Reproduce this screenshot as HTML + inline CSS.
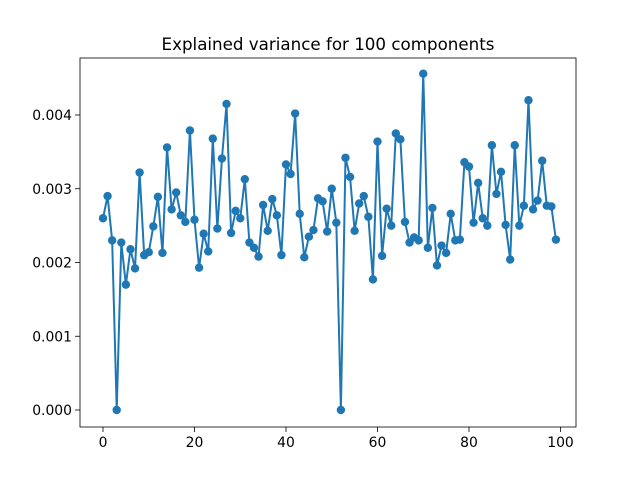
<!DOCTYPE html>
<html><head><meta charset="utf-8"><style>
body{margin:0;background:#fff;}
svg{font-family:"DejaVu Sans","Liberation Sans",sans-serif;}
</style></head><body>
<svg id="chart" width="640" height="480">
<rect x="0" y="0" width="640" height="480" fill="#fff"/>
<text x="328" y="50" font-size="16.7" text-anchor="middle">Explained variance for 100 components</text>
<g id="ticks"></g>
<g id="marks"></g>
<rect x="80" y="58" width="496" height="369" fill="none" stroke="#000" stroke-width="0.8"/>
</svg>
<script>
const values=[0.0026,0.0029,0.0023,0,0.00227,0.0017,0.00218,0.00192,0.00322,0.0021,
0.00214,0.00249,0.00289,0.00213,0.00356,0.00272,0.00295,0.00264,0.00255,0.00379,
0.00258,0.00193,0.00239,0.00215,0.00368,0.00246,0.00341,0.00415,0.0024,0.0027,
0.0026,0.00313,0.00227,0.0022,0.00208,0.00278,0.00243,0.00286,0.00264,0.0021,
0.00333,0.0032,0.00402,0.00266,0.00207,0.00235,0.00244,0.00287,0.00283,0.00242,
0.003,0.00254,0,0.00342,0.00316,0.00243,0.0028,0.0029,0.00262,0.00177,
0.00364,0.00209,0.00273,0.0025,0.00375,0.00367,0.00255,0.00227,0.00234,0.0023,
0.00456,0.0022,0.00274,0.00196,0.00223,0.00213,0.00266,0.0023,0.00231,0.00336,
0.0033,0.00254,0.00308,0.0026,0.0025,0.00359,0.00293,0.00323,0.00251,0.00204,
0.00359,0.0025,0.00277,0.0042,0.00272,0.00284,0.00338,0.00277,0.00276,0.00231];
const xTicks=[0,20,40,60,80,100];
const yTicks=[0,0.001,0.002,0.003,0.004];
const yTickLabels=["0.000","0.001","0.002","0.003","0.004"];
const NS="http://www.w3.org/2000/svg";
function xs(v){return 103+4.575*v;}
function ys(v){return 410-73.75*v/0.001;}
const tg=document.getElementById('ticks');
xTicks.forEach(t=>{
  const l=document.createElementNS(NS,'line');
  l.setAttribute('x1',xs(t));l.setAttribute('x2',xs(t));l.setAttribute('y1',427);l.setAttribute('y2',432);
  l.setAttribute('stroke','#000');l.setAttribute('stroke-width','0.8');
  
  
  tg.appendChild(l);
  const tx=document.createElementNS(NS,'text');
  tx.setAttribute('x',xs(t));tx.setAttribute('y',447);tx.setAttribute('font-size','13.9');tx.setAttribute('text-anchor','middle');
  tx.textContent=t;
  
  
  tg.appendChild(tx);
});
yTicks.forEach((t,i)=>{
  const l=document.createElementNS(NS,'line');
  l.setAttribute('x1',75);l.setAttribute('x2',80);l.setAttribute('y1',ys(t));l.setAttribute('y2',ys(t));
  l.setAttribute('stroke','#000');l.setAttribute('stroke-width','0.8');
  
  
  tg.appendChild(l);
  const tx=document.createElementNS(NS,'text');
  tx.setAttribute('x',72);tx.setAttribute('y',ys(t)+5);tx.setAttribute('font-size','13.9');tx.setAttribute('text-anchor','end');
  tx.textContent=yTickLabels[i];
  
  
  tg.appendChild(tx);
});
const mg=document.getElementById('marks');
const pl=document.createElementNS(NS,'polyline');
pl.setAttribute('points',values.map((v,i)=>xs(i)+','+ys(v)).join(' '));
pl.setAttribute('fill','none');pl.setAttribute('stroke','#1f77b4');pl.setAttribute('stroke-width','2');


mg.appendChild(pl);
values.forEach((v,i)=>{
  const c=document.createElementNS(NS,'circle');
  c.setAttribute('cx',xs(i));c.setAttribute('cy',ys(v));c.setAttribute('r',4.2);c.setAttribute('fill','#1f77b4');
  
  
  mg.appendChild(c);
});
</script>
</body></html>
